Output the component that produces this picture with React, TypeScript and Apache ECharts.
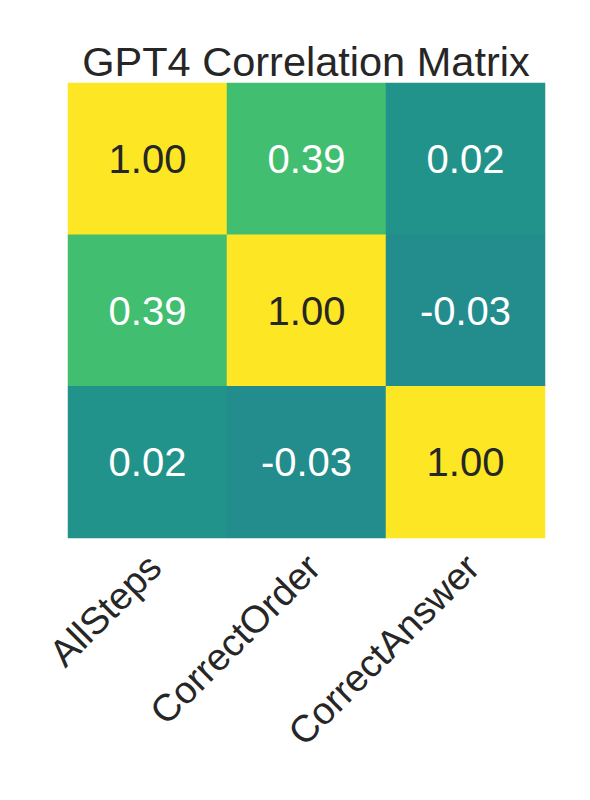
import React, { useEffect, useRef } from "react";
import * as echarts from "echarts";

const labels = ["AllSteps", "CorrectOrder", "CorrectAnswer"];
const matrix = [
  [1.0, 0.39, 0.02],
  [0.39, 1.0, -0.03],
  [0.02, -0.03, 1.0],
];
const viridis = [
  "#440154", "#482475", "#414487", "#355f8d", "#2a788e", "#21918c",
  "#22a884", "#44bf70", "#7ad151", "#bddf26", "#fde725",
];

export default function App() {
  const ref = useRef<HTMLDivElement>(null);
  useEffect(() => {
    if (!ref.current) return;
    const chart = echarts.init(ref.current, undefined, { renderer: "svg" });
    const data: any[] = [];
    matrix.forEach((row, r) =>
      row.forEach((v, c) => {
        data.push({
          value: [c, r, v],
          label: { color: v > 0.6 ? "#262626" : "#ffffff" },
        });
      })
    );
    chart.setOption({
      animation: false,
      backgroundColor: "#ffffff",
      title: {
        text: "GPT4 Correlation Matrix",
        left: 301,
        textAlign: "center",
        top: 35,
        textStyle: {
          fontFamily: "Liberation Sans",
          fontSize: 41.5,
          fontWeight: "normal",
          color: "#262626",
        },
      },
      grid: { left: 68, top: 83, width: 477, height: 455 },
      xAxis: {
        type: "category",
        data: labels,
        axisLine: { show: false },
        axisTick: { show: false },
        splitArea: { show: false },
        axisLabel: {
          rotate: 45,
          margin: 30,
          padding: [0, -10, 0, 0],
          fontFamily: "Liberation Sans",
          fontSize: 38,
          color: "#262626",
        },
      },
      yAxis: {
        type: "category",
        data: labels,
        inverse: true,
        axisLine: { show: false },
        axisTick: { show: false },
        axisLabel: { show: false },
      },
      visualMap: {
        show: false,
        min: -1,
        max: 1,
        inRange: { color: viridis },
      },
      series: [
        {
          type: "heatmap",
          data,
          label: {
            show: true,
            fontFamily: "Liberation Sans",
            fontSize: 40,
            formatter: (p: any) => p.value[2].toFixed(2),
          },
          itemStyle: { borderWidth: 0 },
          emphasis: { disabled: true },
        },
      ],
    });
    return () => chart.dispose();
  }, []);
  return (
    <div
      ref={ref}
      style={{ position: "fixed", left: 0, top: 0, width: 590, height: 800 }}
    />
  );
}
